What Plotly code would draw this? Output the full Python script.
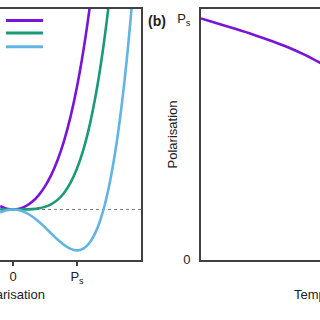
import plotly.graph_objects as go

# Panel (a): free energy vs polarisation (P in units of Ps)
pol = [-0.2, -0.1, 0.0, 0.1, 0.2, 0.3, 0.4, 0.5, 0.6, 0.7, 0.8, 0.9, 1.0,
       1.1, 1.2, 1.3, 1.4, 1.5, 1.6, 1.7, 1.8, 1.9, 2.0]
f_high = [0.082, 0.02, 0.0, 0.02, 0.082, 0.188, 0.346, 0.563, 0.85, 1.22,
          1.69, 2.276, 3.0, 3.884, 4.954, 6.236]
f_crit = [0.002, 0.0, 0.0, 0.0, 0.002, 0.008, 0.026, 0.063, 0.13, 0.24,
          0.41, 0.656, 1.0, 1.464, 2.074, 2.856, 3.842, 5.063, 6.554]
f_low = [-0.078, -0.02, 0.0, -0.02, -0.078, -0.172, -0.294, -0.438, -0.59,
         -0.74, -0.87, -0.964, -1.0, -0.956, -0.806, -0.524, -0.078, 0.563,
         1.434, 2.572, 4.018, 5.812, 8.0]

# Panel (b): polarisation vs temperature
temp = [0.0, 0.05, 0.10, 0.15, 0.20, 0.25, 0.30, 0.35]
pol_t = [1.0, 0.978, 0.956, 0.933, 0.908, 0.880, 0.847, 0.808]

PURPLE = "#7a14d6"
GREEN = "#1a9a78"
BLUE = "#62b4e4"
AX = "#404040"
FONT = "Arial, Liberation Sans, sans-serif"

W = 320.0
H = 310.0
def px(x): return x / W
def py(y): return 1 - y / H

fig = go.Figure()
fig.add_trace(go.Scatter(x=pol[:len(f_high)], y=f_high, mode="lines",
                         line=dict(color=PURPLE, width=2.6, shape="spline"),
                         xaxis="x", yaxis="y", showlegend=False))
fig.add_trace(go.Scatter(x=pol[:len(f_crit)], y=f_crit, mode="lines",
                         line=dict(color=GREEN, width=2.6, shape="spline"),
                         xaxis="x", yaxis="y", showlegend=False))
fig.add_trace(go.Scatter(x=pol[:len(f_low)], y=f_low, mode="lines",
                         line=dict(color=BLUE, width=2.6, shape="spline"),
                         xaxis="x", yaxis="y", showlegend=False))
fig.add_trace(go.Scatter(x=temp, y=pol_t, mode="lines",
                         line=dict(color=PURPLE, width=2.6, shape="spline"),
                         xaxis="x2", yaxis="y2", showlegend=False))

bottom = 266.5
top = 9
fig.update_layout(
    width=int(W), height=int(H),
    margin=dict(l=0, r=0, t=0, b=0),
    paper_bgcolor="white", plot_bgcolor="white",
    font=dict(family=FONT, size=12, color="#222"),
    xaxis=dict(domain=[0, px(141)], range=[-0.203, 2.0],
               showline=True, linecolor=AX, linewidth=2, mirror=True,
               showgrid=False, zeroline=False,
               tickmode="array", tickvals=[0, 1], ticktext=["0", "P<sub>s</sub>"],
               ticks="outside", ticklen=4, tickcolor=AX, tickwidth=1.5,
               tickfont=dict(size=13, family=FONT, color="#222")),
    yaxis=dict(domain=[py(bottom), py(top)], range=[-(bottom - 215) / 42, (215 - top) / 42],
               side="right", anchor="x",
               showline=True, linecolor=AX, linewidth=2, mirror=False,
               showgrid=False, zeroline=False, showticklabels=False, ticks=""),
    xaxis2=dict(domain=[px(201), 1], range=[0, 0.34], anchor="y2",
                showline=True, linecolor=AX, linewidth=2, mirror=True,
                showgrid=False, zeroline=False, showticklabels=False, ticks=""),
    yaxis2=dict(domain=[py(bottom), py(top)], range=[0, 1.0 + 10 / 247.5], anchor="x2",
                showline=True, linecolor=AX, linewidth=2,
                showgrid=False, zeroline=False,
                tickmode="array", tickvals=[0, 1], ticktext=["0", "P<sub>s</sub>"],
                ticks="outside", ticklen=6, tickcolor="rgba(0,0,0,0)",
                tickfont=dict(size=13, family=FONT, color="#222")),
)

# dotted zero-energy reference line
fig.add_shape(type="line", xref="x domain", yref="y", x0=0, x1=1, y0=0, y1=0,
              line=dict(color="#777", width=1, dash="dot"), layer="below")

# legend keys (labels cropped out of view)
for yy, c in [(21, PURPLE), (34, GREEN), (48, BLUE)]:
    fig.add_shape(type="line", xref="paper", yref="paper",
                  x0=px(6), x1=px(43), y0=py(yy), y1=py(yy),
                  line=dict(color=c, width=3))

fig.add_annotation(text="Polarisation", xref="paper", yref="paper",
                   x=px(47), y=py(302), xanchor="right", yanchor="middle",
                   showarrow=False, font=dict(size=13, family=FONT, color="#222"))
fig.add_annotation(text="Temperature", xref="paper", yref="paper",
                   x=px(292), y=py(302), xanchor="left", yanchor="middle",
                   showarrow=False, font=dict(size=13, family=FONT, color="#222"))
fig.add_annotation(text="Polarisation", xref="paper", yref="paper",
                   x=px(172), y=py(138), xanchor="center", yanchor="middle",
                   textangle=-90, showarrow=False,
                   font=dict(size=13, family=FONT, color="#222"))
fig.add_annotation(text="<b>(b)</b>", xref="paper", yref="paper",
                   x=px(156.5), y=py(22), xanchor="center", yanchor="middle",
                   showarrow=False, font=dict(size=14, family=FONT, color="#222"))

fig.write_html("out.html")
